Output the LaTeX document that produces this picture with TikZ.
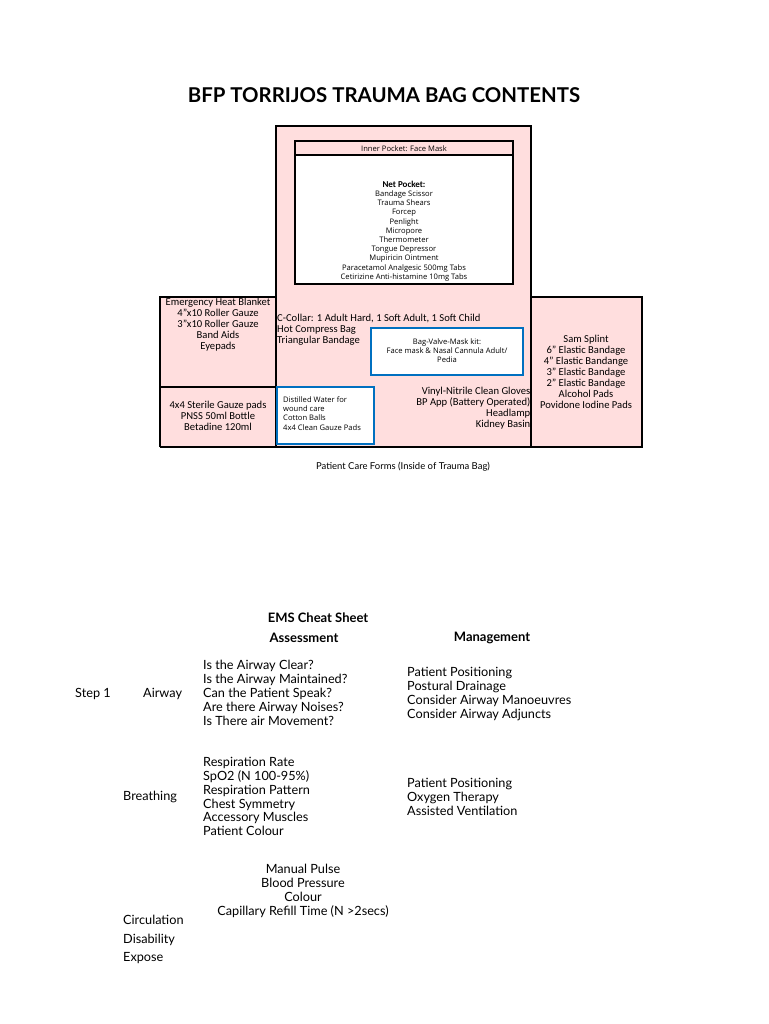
\documentclass[tikz,border=0pt]{standalone}
\usepackage{fontspec}
\setmainfont{Carlito}
\newfontfamily\lato{Lato}
\newfontfamily\opens{Open Sans}
\definecolor{bagpink}{RGB}{255,222,222}
\definecolor{kitblue}{RGB}{0,112,192}
\begin{document}
\begin{tikzpicture}[x=1pt,y=-1pt,
  cellline/.style={draw=black,line width=1.3pt},
  kitbox/.style={draw=kitblue,line width=1.4pt,fill=white},
  celltext/.style={font=\fontsize{10.6}{11}\selectfont,inner sep=0pt,align=center},
  smalltext/.style={font=\opens\fontsize{7.6}{9.2}\selectfont,inner sep=0pt,align=center},
  cheat/.style={font=\lato\fontsize{12.7}{13.9}\selectfont,inner sep=0pt,align=left},
  cheathead/.style={font=\lato\bfseries\fontsize{13}{14}\selectfont,inner sep=0pt}]
\useasboundingbox (0,0) rectangle (768,1024);
% pink regions
\fill[bagpink] (276,126) rectangle (531,447);
\fill[bagpink] (160,297) rectangle (276,447);
\fill[bagpink] (531,297) rectangle (642,447);
% outlines
\draw[cellline] (160,447) -- (160,297) -- (276,297);
\draw[cellline] (276,447) -- (276,126) -- (531,126) -- (531,447);
\draw[cellline] (531,297) -- (642,297) -- (642,447) -- (160,447);
\draw[cellline] (160,387) -- (276,387);
% inner pocket
\draw[cellline,line width=1.1pt,fill=white] (295,141) rectangle (513,284);
\draw[cellline,line width=1.1pt,fill=bagpink] (295,141) rectangle (513,155);
\node[smalltext] (inner) at (404,148.5) {Inner Pocket: Face Mask};
\node[smalltext] (net) at (404,231) {{\fontsize{9}{9.5}\selectfont\setmainfont{Carlito}\normalfont\bfseries Net Pocket:}\\Bandage Scissor\\Trauma Shears\\Forcep\\Penlight\\Micropore\\Thermometer\\Tongue Depressor\\Mupiricin Ointment\\Paracetamol Analgesic 500mg Tabs\\Cetirizine Anti-histamine 10mg Tabs};
% title
\node[font=\lato\bfseries\fontsize{20.4}{22}\selectfont,inner sep=0pt] (title) at (384,95) {BFP TORRIJOS TRAUMA BAG CONTENTS};
% left top cell
\node[celltext] (lefttop) at (218,324.5) {Emergency Heat Blanket\\4''x10 Roller Gauze\\3''x10 Roller Gauze\\Band Aids\\Eyepads};
% middle top
\node[celltext,align=left,anchor=west] (midtop) at (277,330) {C-Collar: 1 Adult Hard, 1 Soft Adult, 1 Soft Child\\Hot Compress Bag\\Triangular Bandage};
% BVM kit
\draw[kitbox] (371,328) rectangle (523,375);
\node[smalltext] (bvm) at (447,350.5) {Bag-Valve-Mask kit:\\Face mask \& Nasal Cannula Adult/\\Pedia};
% left bottom
\node[celltext] (leftbot) at (218,416) {4x4 Sterile Gauze pads\\PNSS 50ml Bottle\\Betadine 120ml};
% distilled water box
\draw[kitbox] (277,387) rectangle (374,444);
\node[smalltext,align=left,anchor=west] (dist) at (283,413.5) {Distilled Water for\\wound care\\Cotton Balls\\4x4 Clean Gauze Pads};
% middle bottom right aligned
\node[celltext,align=right,anchor=east] (midbot) at (530.5,408.5) {Vinyl-Nitrile Clean Gloves\\BP App (Battery Operated)\\Headlamp\\Kidney Basin};
% right cell
\node[celltext] (right) at (586,371.5) {Sam Splint\\6'' Elastic Bandage\\4'' Elastic Bandange\\3'' Elastic Bandage\\2'' Elastic Bandage\\Alcohol Pads\\Povidone Iodine Pads};
% forms
\node[font=\lato\fontsize{9.5}{11}\selectfont,inner sep=0pt] (forms) at (403,467) {Patient Care Forms (Inside of Trauma Bag)};
% cheat sheet
\node[cheathead] (ems) at (318,618) {EMS Cheat Sheet};
\node[cheathead] (assess) at (304,638) {Assessment};
\node[cheathead] (manage) at (492,638) {Management};
\node[cheat,anchor=west] (step) at (75,694) {Step 1};
\node[cheat,anchor=west] (airway) at (143,694) {Airway};
\node[cheat,anchor=west] (airA) at (203,693) {Is the Airway Clear?\\Is the Airway Maintained?\\Can the Patient Speak?\\Are there Airway Noises?\\Is There air Movement?};
\node[cheat,anchor=west] (airM) at (407,694) {Patient Positioning\\Postural Drainage\\Consider Airway Manoeuvres\\Consider Airway Adjuncts};
\node[cheat,anchor=west] (breath) at (123,797) {Breathing};
\node[cheat,anchor=west] (brA) at (203,796.5) {Respiration Rate\\SpO2 (N 100-95\%)\\Respiration Pattern\\Chest Symmetry\\Accessory Muscles\\Patient Colour};
\node[cheat,anchor=west] (brM) at (407,797) {Patient Positioning\\Oxygen Therapy\\Assisted Ventilation};
\node[cheat,align=center] (circA) at (303,891) {Manual Pulse\\Blood Pressure\\Colour\\Capillary Refill Time (N >2secs)};
\node[cheat,anchor=west] (circ) at (123,920) {Circulation};
\node[cheat,anchor=west] (dis) at (123,940) {Disability};
\node[cheat,anchor=west] (exp) at (123,958) {Expose};
\end{tikzpicture}
\end{document}
